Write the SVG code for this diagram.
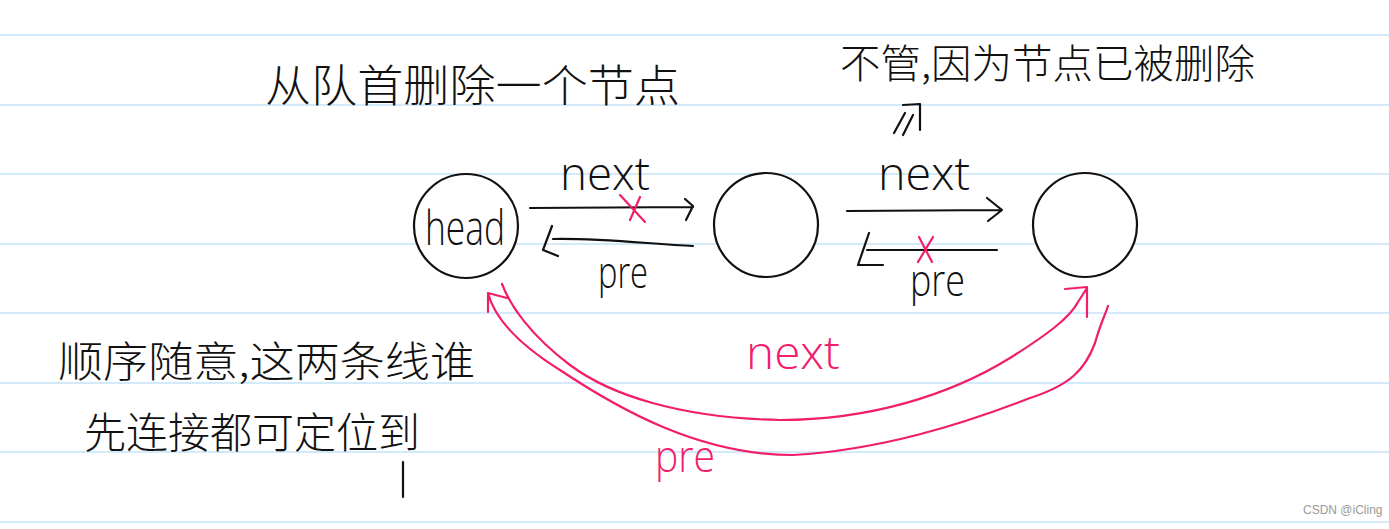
<svg xmlns="http://www.w3.org/2000/svg" width="1389" height="529" viewBox="0 0 1389 529">
<style>
.rule{stroke:#d2eafa;stroke-width:2}
.ink{fill:none;stroke:#111;stroke-width:2.2;stroke-linecap:round;stroke-linejoin:round}
.red{fill:none;stroke:#f21d6b;stroke-width:2.2;stroke-linecap:round;stroke-linejoin:round}
.node{fill:#fff;stroke:#111;stroke-width:2.2}
.cn{font-family:"Noto Sans CJK SC","Noto Sans CJK JP",sans-serif;font-weight:300;fill:#111}
.hw{font-family:"Open Sans","Noto Sans",sans-serif;font-weight:300;fill:#111}
.hwr{font-family:"Open Sans","Noto Sans",sans-serif;font-weight:300;fill:#f21d6b}
</style>
<rect width="1389" height="529" fill="#fff"/>
<g id="rules">
<line class="rule" x1="0" y1="35" x2="1389" y2="35"/>
<line class="rule" x1="0" y1="105" x2="1389" y2="105"/>
<line class="rule" x1="0" y1="174" x2="1389" y2="174"/>
<line class="rule" x1="0" y1="244" x2="1389" y2="244"/>
<line class="rule" x1="0" y1="313" x2="1389" y2="313"/>
<line class="rule" x1="0" y1="383" x2="1389" y2="383"/>
<line class="rule" x1="0" y1="452" x2="1389" y2="452"/>
<line class="rule" x1="0" y1="522" x2="1389" y2="522"/>
</g>
<g id="notes">
<text class="cn" x="265" y="102" font-size="44" textLength="415" lengthAdjust="spacingAndGlyphs">从队首删除一个节点</text>
<text class="cn" x="840" y="78" font-size="40" textLength="415" lengthAdjust="spacingAndGlyphs">不管,因为节点已被删除</text>
<text class="cn" x="58" y="377" font-size="42" textLength="417" lengthAdjust="spacingAndGlyphs">顺序随意,这两条线谁</text>
<text class="cn" x="84" y="448" font-size="42" textLength="336" lengthAdjust="spacingAndGlyphs">先连接都可定位到</text>
<path class="ink" d="M403,462 L403,497"/>
<path class="ink" d="M905,113 L894,133 M913,115 L903,135 M903,105 L920,104 L920,130"/>
</g>
<g id="node-head">
<circle class="node" cx="466" cy="226" r="52"/>
<text class="hw" x="425" y="245" font-size="47" textLength="80" lengthAdjust="spacingAndGlyphs">head</text>
</g>
<g id="node-2">
<circle class="node" cx="766" cy="225" r="52"/>
</g>
<g id="node-3">
<circle class="node" cx="1085" cy="225" r="52"/>
</g>
<g id="connectors">
<path class="ink" d="M530,208 L693,207 M685,199 L693,206 L686,220"/>
<path class="ink" d="M693,246 C650,244 600,238 553,239 M552,226 L543,250 L558,256"/>
<path class="red" d="M620,195 L645,222 M640,197 L630,220"/>
<path class="ink" d="M847,211 L1002,210 M987,198 L1002,210 L988,221"/>
<path class="ink" d="M997,250 L867,250 M869,233 L858,265 L883,265"/>
<path class="red" d="M919,237 L932,262 M933,237 L918,262"/>
<path class="red" d="M502,284 C510,305 530,335 570,365 C610,395 680,418 780,420 C870,420 950,395 1010,358 C1045,336 1070,318 1078,302 L1087,288 M1065,289 L1087,287 L1087,317"/>
<path class="red" d="M488,293 C495,320 520,345 560,370 C620,410 700,455 793,455 C880,450 960,425 1030,398 C1070,385 1085,370 1095,343 C1100,325 1105,315 1108,306 M488,312 L488,293 L507,298"/>
</g>
<g id="labels">
<text class="hw" x="560" y="190" font-size="46" textLength="90" lengthAdjust="spacingAndGlyphs">next</text>
<text class="hw" x="598" y="288" font-size="44" textLength="50" lengthAdjust="spacingAndGlyphs">pre</text>
<text class="hw" x="878" y="190" font-size="46" textLength="92" lengthAdjust="spacingAndGlyphs">next</text>
<text class="hw" x="910" y="296" font-size="44" textLength="55" lengthAdjust="spacingAndGlyphs">pre</text>
<text class="hwr" x="746" y="369" font-size="46" textLength="94" lengthAdjust="spacingAndGlyphs">next</text>
<text class="hwr" x="655" y="472" font-size="44" textLength="60" lengthAdjust="spacingAndGlyphs">pre</text>
</g>
<text x="1303" y="514" font-family="Liberation Sans, sans-serif" font-size="12" fill="#9a9a9a">CSDN @iCling</text>
</svg>
